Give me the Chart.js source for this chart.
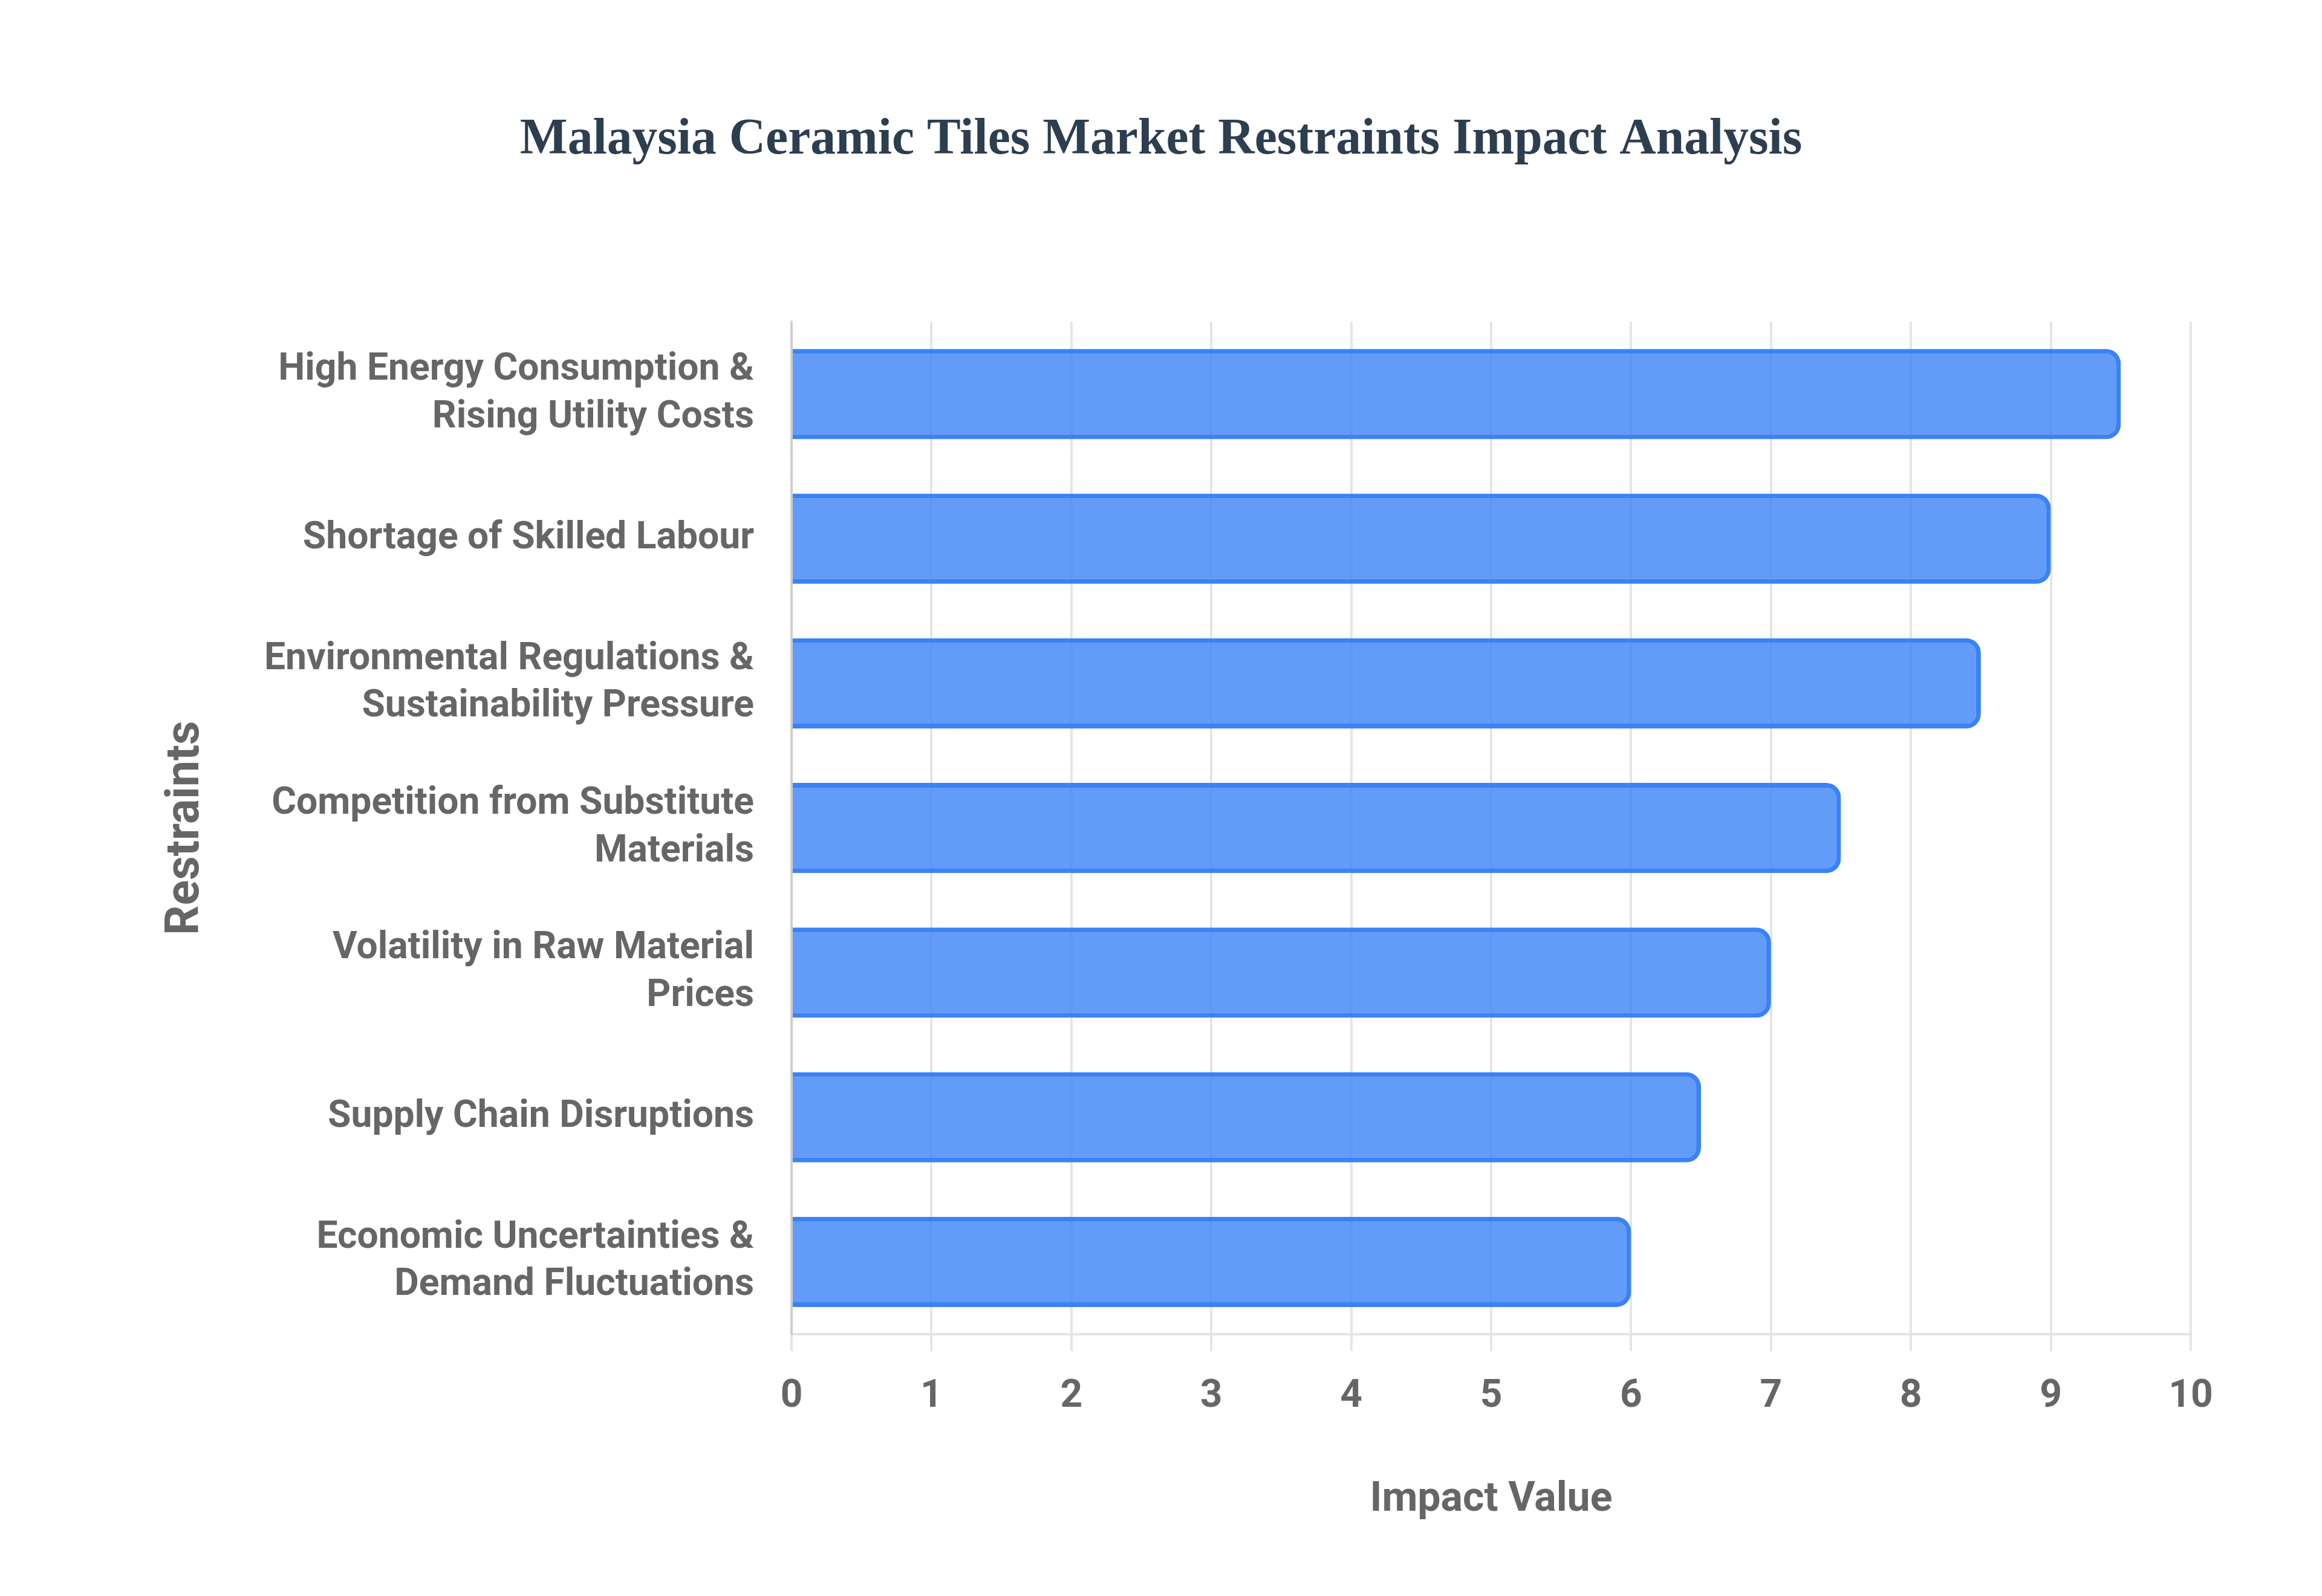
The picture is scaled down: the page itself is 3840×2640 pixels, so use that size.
<!DOCTYPE html>
<html>
<head>
<meta charset="utf-8">
<title>Malaysia Ceramic Tiles Market Restraints Impact Analysis</title>
<script src="https://cdn.jsdelivr.net/npm/chart.js@4.4.1/dist/chart.umd.min.js"></script>
<style>
    html, body { margin: 0; padding: 0; background: #ffffff; overflow: hidden; }
    #wrap { width: 3840px; height: 2640px; }
</style>
</head>
<body>
<div id="wrap"><canvas id="restraintsChart" width="3840" height="2640"></canvas></div>
<script>
// restraint names, split in lines as they show on the axis
const restraints = [
    ['High Energy Consumption &', 'Rising Utility Costs'],
    'Shortage of Skilled Labour',
    ['Environmental Regulations &', 'Sustainability Pressure'],
    ['Competition from Substitute', 'Materials'],
    ['Volatility in Raw Material', 'Prices'],
    'Supply Chain Disruptions',
    ['Economic Uncertainties &', 'Demand Fluctuations']
];
const impactValues = [9.5, 9, 8.5, 7.5, 7, 6.5, 6];
const impactTicks = [0, 1, 2, 3, 4, 5, 6, 7, 8, 9, 10];

const titleText = 'Malaysia Ceramic Tiles Market Restraints Impact Analysis';
const xTitle = 'Impact Value';
const yTitle = 'Restraints';

// the chart was laid out on a 960x660 page, everything is scaled by 4
const S = 4;

Chart.defaults.font.family = 'Roboto';
Chart.defaults.color = '#666666';

const ctx = document.getElementById('restraintsChart').getContext('2d');
new Chart(ctx, {
    type: 'bar',
    data: {
        labels: restraints,
        datasets: [{
            label: 'Impact Value',
            data: impactValues,
            backgroundColor: 'rgba(59, 130, 246, 0.8)',
            borderColor: '#3b82f6',
            borderWidth: 2 * S,
            borderRadius: 6 * S,
            categoryPercentage: 0.8,
            barPercentage: 0.78
        }]
    },
    options: {
        indexAxis: 'y',
        responsive: false,
        devicePixelRatio: 1,
        animation: false,
        layout: {
            padding: { top: 20 * S, left: 54.25 * S, right: 54.25 * S, bottom: 20 * S }
        },
        plugins: {
            legend: { display: false },
            tooltip: { enabled: false },
            title: {
                display: true,
                text: titleText,
                color: '#2c3e50',
                font: { family: '"Liberation Serif", "Times New Roman", serif', size: 20.9 * S, weight: 'bold' },
                padding: { top: 25.6 * S, bottom: 62.4 * S }
            }
        },
        scales: {
            x: {
                type: 'linear',
                min: impactTicks[0],
                max: impactTicks[impactTicks.length - 1],
                afterBuildTicks: (scale) => {
                    scale.ticks = impactTicks.map(v => ({ value: v }));
                },
                grid: { color: 'rgba(0, 0, 0, 0.1)', lineWidth: S, tickLength: 7 * S },
                border: { color: 'rgba(0, 0, 0, 0.1)', width: S },
                ticks: {
                    color: '#666666',
                    padding: 9.5 * S,
                    font: { size: 16 * S, weight: 'bold' }
                },
                title: {
                    display: true,
                    text: xTitle,
                    color: '#666666',
                    font: { size: 17 * S, weight: 'bold' },
                    padding: { top: 20 * S, bottom: 9.2 * S }
                },
                afterFit: (scale) => {
                    scale.height = 88.25 * S;
                }
            },
            y: {
                grid: { display: false, drawTicks: false },
                border: { display: true, color: 'rgba(0, 0, 0, 0.1)', width: S },
                ticks: {
                    color: '#666666',
                    padding: 15.5 * S,
                    font: { size: 15.6 * S, weight: 'bold', lineHeight: 1.26 }
                },
                title: {
                    display: true,
                    text: yTitle,
                    color: '#666666',
                    font: { size: 19.3 * S, weight: 'bold' },
                    padding: { top: 11.4 * S, bottom: 4 * S }
                },
                afterFit: (scale) => {
                    scale.width = 273 * S;
                }
            }
        }
    }
});
</script>
</body>
</html>
